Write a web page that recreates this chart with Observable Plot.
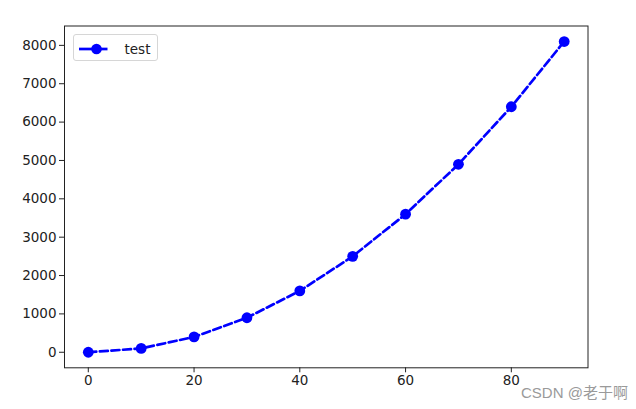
<!DOCTYPE html>
<html>
<head>
<meta charset="utf-8">
<script src="https://cdn.jsdelivr.net/npm/d3@7"></script>
<script src="https://cdn.jsdelivr.net/npm/@observablehq/plot@0.6"></script>
<style>
  html, body { margin: 0; padding: 0; background: #fff; }
  #wrap { position: relative; width: 636px; height: 409px; overflow: hidden; }
  #legend { position: absolute; left: 72.5px; top: 33.5px; width: 85px; height: 27px;
    border: 1px solid #d6d6d6; border-radius: 3px; background: rgba(255,255,255,0.8); box-sizing: border-box; }
  #legend svg { position: absolute; left: 0; top: 0; }
  #wm { position: absolute; left: 521px; top: 381px; font-family: "Liberation Sans", "Noto Sans CJK SC", sans-serif;
    font-size: 15px; color: #9a9a9a; white-space: nowrap; }
</style>
</head>
<body>
<div id="wrap"></div>
<script>
const xValues = [0, 10, 20, 30, 40, 50, 60, 70, 80, 90];
const yValues = [0, 100, 400, 900, 1600, 2500, 3600, 4900, 6400, 8100];
const xTicks = [0, 20, 40, 60, 80];
const yTicks = [0, 1000, 2000, 3000, 4000, 5000, 6000, 7000, 8000];
const seriesName = "test";
const watermark = "CSDN @老于啊";

const data = xValues.map((x, i) => ({x, y: yValues[i]}));
const blue = "#0000ff";
const font = "DejaVu Sans, sans-serif";

const chart = Plot.plot({
  width: 636,
  height: 409,
  marginLeft: 64,
  marginRight: 48.5,
  marginTop: 25.5,
  marginBottom: 41.7,
  style: {fontFamily: font, fontSize: "13.5px", color: "#222", background: "#fff"},
  x: {domain: [-4.5, 94.5]},
  y: {domain: [-405, 8505]},
  marks: [
    Plot.axisX({ticks: xTicks, tickSize: 5, tickPadding: 3, label: null, tickFormat: d => String(d), stroke: "#222", fill: "#222"}),
    Plot.axisY({ticks: yTicks, tickSize: 5, tickPadding: 3, label: null, tickFormat: d => String(d), stroke: "#222", fill: "#222"}),
    Plot.line(data, {x: "x", y: "y", stroke: blue, strokeWidth: 2.7, strokeDasharray: "8,3.6", curve: "linear"}),
    Plot.dot(data, {x: "x", y: "y", r: 5.4, fill: blue, stroke: "none"}),
    Plot.frame({stroke: "#222", strokeWidth: 1})
  ]
});

const wrap = document.getElementById("wrap");
wrap.appendChild(chart);

// Legend
const legend = document.createElement("div");
legend.id = "legend";
legend.innerHTML = `<svg width="85" height="27">
  <line x1="5" y1="14" x2="33.5" y2="14" stroke="${blue}" stroke-width="2.7"/>
  <circle cx="22.5" cy="14" r="5.3" fill="${blue}"/>
  <text x="50.5" y="19" font-family="${font}" font-size="13.5px" fill="#222">${seriesName}</text>
</svg>`;
wrap.appendChild(legend);

const wm = document.createElement("div");
wm.id = "wm";
wm.textContent = watermark;
wrap.appendChild(wm);
</script>
</body>
</html>
